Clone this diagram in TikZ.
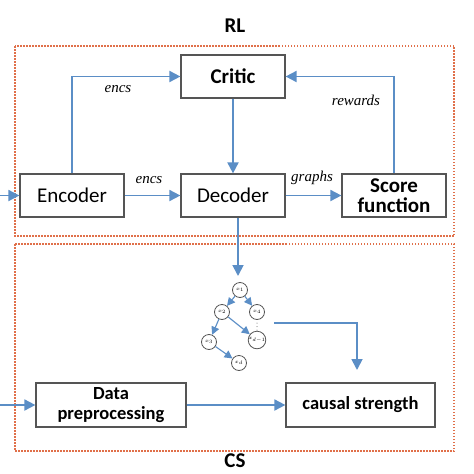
\documentclass[tikz,border=0pt]{standalone}
\usepackage{fontspec}
\setmainfont{Carlito}
\newfontfamily\lblfont{Liberation Serif}
\usetikzlibrary{arrows.meta}
\definecolor{flow}{HTML}{5B8EC6}
\definecolor{frame}{HTML}{E0704A}
\definecolor{edge}{HTML}{555555}
\tikzset{
  blk/.style={draw=edge, line width=1.2pt, minimum width=104pt, minimum height=43pt, inner sep=0pt, align=center, fill=white},
  big/.style={font=\fontsize{21}{21}\selectfont},
  bigb/.style={font=\fontsize{21}{20}\selectfont\bfseries},
  midb/.style={font=\fontsize{18.5}{20}\selectfont\bfseries},
  flw/.style={draw=flow, line width=1.8pt, -{Triangle[length=11pt,width=11pt]}},
  sflw/.style={draw=flow, line width=1.1pt, -{Triangle[length=8pt,width=8pt]}},
  grp/.style={draw=frame, line width=1.2pt, dash pattern=on 1.5pt off 1.5pt},
  lbl/.style={font=\fontsize{15}{15}\lblfont\itshape},
  gn/.style={circle, draw=edge, line width=0.8pt, minimum size=15pt, inner sep=0pt, font=\fontsize{5}{5}\selectfont},
  dotm/.style={circle, fill=edge, minimum size=1pt, inner sep=0pt},
}
\begin{document}
\begin{tikzpicture}[x=1pt,y=-1pt]
\useasboundingbox (0,0) rectangle (474,474);
% group frames
\draw[grp] (15,46) rectangle (454,236);
\draw[grp] (15,244) rectangle (454,451);
\node[bigb] (rl) at (235,26) {RL};
\node[bigb, inner sep=0pt] (cs) at (235,461) {CS};
% RL boxes
\node[blk, bigb] (critic) at (233,76.5) {Critic};
\node[blk, big] (enc) at (72,195.5) {Encoder};
\node[blk, big] (dec) at (233,195.5) {Decoder};
\node[blk, bigb] (score) at (394,195.5) {Score\\function};
% CS boxes
\node[blk, midb, minimum width=150pt, minimum height=44pt] (prep) at (111,405) {Data\\preprocessing};
\node[blk, midb, minimum width=149pt, minimum height=44pt] (cstr) at (360.5,405) {causal strength};
% input stubs
\coordinate (in1) at (0,195.5);
\coordinate (in2) at (0,405);
\draw[flw] (in1) -- (enc.west);
\draw[flw] (in2) -- (prep.west);
% RL connectors
\draw[flw] (enc.north) |- (critic.west);
\draw[flw] (score.north) |- (critic.east);
\draw[flw] (critic.south) -- (dec.north);
\draw[flw] (enc.east) -- (dec.west);
\draw[flw] (dec.east) -- (score.west);
\node[lbl] (l1) at (118,89) {encs};
\node[lbl] (l2) at (149,180) {encs};
\node[lbl] (l3) at (312,178) {graphs};
\node[lbl] (l4) at (356,100) {rewards};
% graph
\node[gn] (x1) at (240,290) {$x_1$};
\node[gn] (x2) at (222,312) {$x_2$};
\node[gn] (x4) at (257,312) {$x_4$};
\node[gn] (x3) at (209,342) {$x_3$};
\node[gn] (xd1) at (257,340) {$x_{d-1}$};
\node[gn] (xd) at (239,363) {$x_d$};
\draw[sflw] (x1) -- (x2);
\draw[sflw] (x1) -- (x4);
\draw[sflw] (x2) -- (x3);
\draw[sflw] (x2) -- (xd1);
\draw[sflw] (x3) -- (xd);
\node[dotm] (d1) at (257,323) {};
\node[dotm] (d2) at (257,326.5) {};
\node[dotm] (d3) at (257,330) {};
\coordinate (dtop) at (238,217);
\coordinate (gtop) at (238,276);
\draw[flw] (dec.south -| dtop) -- (gtop);
% graph -> causal strength
\coordinate (gout) at (274,323);
\coordinate (cin) at (357,370);
\draw[flw] (gout) -| (cin);
\draw[flw] (prep.east) -- (cstr.west);
\end{tikzpicture}
\end{document}
